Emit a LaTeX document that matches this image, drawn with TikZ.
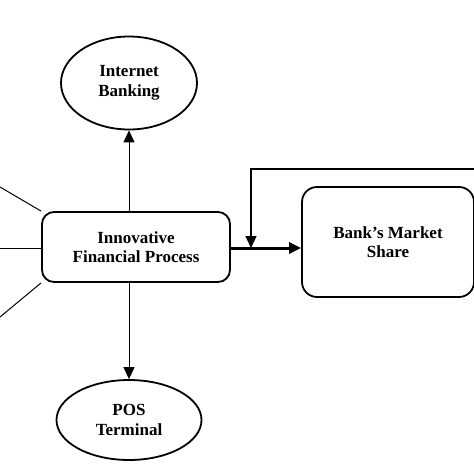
\documentclass[tikz,border=0pt]{standalone}
\usepackage{fontspec}
\setmainfont{Liberation Serif}
\usetikzlibrary{shapes.geometric,arrows.meta}

\begin{document}
\begin{tikzpicture}[x=1pt,y=-1pt,font=\bfseries\fontsize{17}{19.5}\selectfont]
		\useasboundingbox (0,0) rectangle (474,474);
		%\fill[lightgray] (0,0) rectangle (474,474);
		\tikzset{box/.style={draw,line width=1.8pt,align=center,inner sep=0pt},
			oval/.style={box,ellipse},
			tip/.style={-{Triangle[length=12pt,width=11pt]}}}
		
		\node[box,rounded corners=12pt,minimum width=188pt,minimum height=70pt] (process) at (136,247) {Innovative\\Financial Process};
		\node[box,rounded corners=15pt,minimum width=172pt,minimum height=110pt] (share) at (388,242) {Bank’s Market\\Share};
		\node[oval,minimum width=136pt,minimum height=93pt] (internet) at (129,83) {Internet\\Banking};
		\node[oval,minimum width=145pt,minimum height=80pt] (pos) at (129,420) {POS\\Terminal};
		
		\coordinate (inA) at (0,187);
		\coordinate (inB) at (0,248);
		\coordinate (inC) at (0,317);
		\coordinate (fback) at (474,169);
		\coordinate (merge) at (251,248);
		
		\draw[line width=1pt] (inA)--(process.north west);
		\draw[line width=1pt] (inB)--(inB -| process.west);
		\draw[line width=1pt] (inC)--(process.south west);
		
		\draw[line width=1pt,tip] (process.north -| internet)--(internet.south);
		\draw[line width=1pt,tip] (process.south -| pos)--(pos.north);
		
		\draw[line width=3pt,tip] (process.east |- merge)--(share.west |- merge);
		\draw[line width=1.3pt,tip] (fback) -| (merge);
	\end{tikzpicture}
\end{document}
